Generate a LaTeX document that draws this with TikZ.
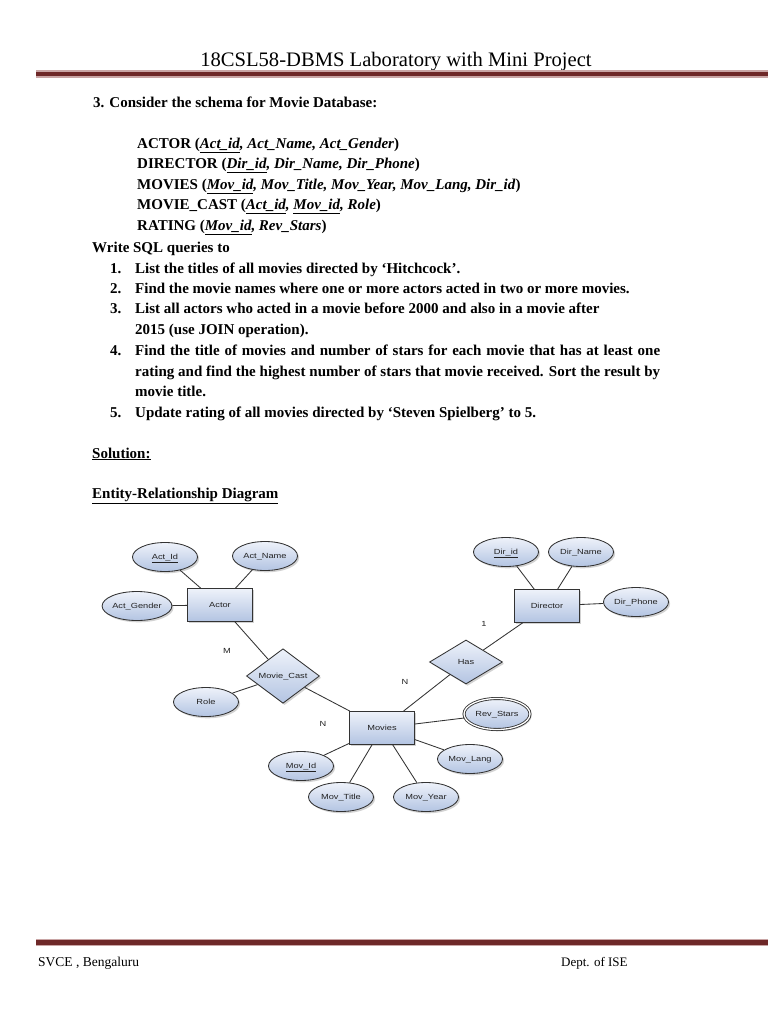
\documentclass[tikz,border=0pt]{standalone}
\usepackage{fontspec}
\setmainfont{Liberation Serif}
\newfontfamily\erfont[FakeStretch=1.25]{Liberation Sans}
\usetikzlibrary{shapes.geometric,shadows}
\definecolor{barmaroon}{HTML}{6E2828}
\definecolor{barlight}{HTML}{C9A5A5}
\definecolor{shtop}{HTML}{EEF2FA}
\definecolor{shbot}{HTML}{B3C4E2}
\definecolor{edgec}{HTML}{333333}
\definecolor{ertext}{HTML}{222222}
\begin{document}
\begin{tikzpicture}[x=1pt,y=-1pt,
  body/.style={anchor=base west,inner sep=0pt,font=\bfseries\fontsize{15}{18}\selectfont},
  foot/.style={anchor=base west,inner sep=0pt,font=\fontsize{13.5}{16}\selectfont},
  erbase/.style={draw=edgec,line width=0.85pt,top color=shtop,bottom color=shbot,
     drop shadow={opacity=0.35,shadow xshift=1.6pt,shadow yshift=-1.8pt},
     inner sep=0pt,text height=5.3pt,text depth=0.4pt,text=ertext,
     font=\erfont\fontsize{7.4}{8}\selectfont},
  attr/.style={erbase,ellipse,minimum width=65pt,minimum height=29pt},
  ent/.style={erbase,rectangle,minimum width=65pt,minimum height=33pt},
  rel/.style={erbase,diamond,minimum width=73pt,minimum height=44pt},
  link/.style={draw=edgec,line width=0.85pt},
  card/.style={inner sep=0pt,text=ertext,font=\erfont\fontsize{7.4}{8}\selectfont}]
\fill[white] (0,0) rectangle (768,1024);
\useasboundingbox (0,0) rectangle (768,1024);

% header
\node[anchor=base,inner sep=0pt,font=\fontsize{20.6}{24}\selectfont] (hd) at (396,67) {18CSL58-DBMS Laboratory with Mini Project};
\fill[barlight] (36,70.5) rectangle (768,78.5);
\fill[barmaroon] (36,72) rectangle (768,76.5);

% body text
\node[body] (q) at (93,108) {3. Consider the schema for Movie Database:};
\node[body] (s1) at (137,149) {ACTOR (\textit{\underline{Act\_id}, Act\_Name, Act\_Gender})};
\node[body] (s2) at (137,169) {DIRECTOR (\textit{\underline{Dir\_id}, Dir\_Name, Dir\_Phone})};
\node[body] (s3) at (137,190) {MOVIES (\textit{\underline{Mov\_id}, Mov\_Title, Mov\_Year, Mov\_Lang, Dir\_id})};
\node[body] (s4) at (137,210) {MOVIE\_CAST (\textit{\underline{Act\_id}, \underline{Mov\_id}, Role})};
\node[body] (s5) at (137,231) {RATING (\textit{\underline{Mov\_id}, Rev\_Stars})};
\node[body] (w) at (92,252) {Write SQL queries to};
\node[body] (n1) at (110,273) {1.};
\node[body] (l1) at (135,273) {List the titles of all movies directed by `Hitchcock'.};
\node[body] (n2) at (110,293) {2.};
\node[body] (l2) at (135,293) {Find the movie names where one or more actors acted in two or more movies.};
\node[body] (n3) at (110,313) {3.};
\node[body] (l3) at (135,313) {List all actors who acted in a movie before 2000 and also in a movie after};
\node[body] (l3b) at (135,334) {2015 (use JOIN operation).};
\node[body] (n4) at (110,355) {4.};
\node[body] (l4) at (135,355) {\makebox[525pt][s]{Find the title of movies and number of stars for each movie that has at least one}};
\node[body] (l4b) at (135,376) {\makebox[525pt][s]{rating and find the highest number of stars that movie received. Sort the result by}};
\node[body] (l4c) at (135,396) {movie title.};
\node[body] (n5) at (110,417) {5.};
\node[body] (l5) at (135,417) {Update rating of all movies directed by `Steven Spielberg' to 5.};
\node[body] (sol) at (92,458) {\underline{Solution:}};
\node[body] (erd) at (92,498) {\underline{Entity-Relationship Diagram}};

% ER diagram
\node[ent] (actor) at (220,605) {Actor};
\node[ent] (director) at (547,606) {Director};
\node[ent] (movies) at (382,728) {Movies};
\node[rel] (cast) at (283,676) {Movie\_Cast};
\node[rel] (has) at (466,662) {Has};
\node[attr] (actid) at (165,557) {\underline{Act\_Id}};
\node[attr] (actname) at (265,556) {Act\_Name};
\node[attr,minimum width=68pt] (actgender) at (137,606) {Act\_Gender};
\node[attr] (role) at (206,702) {Role};
\node[attr] (dirid) at (506,552) {\underline{Dir\_id}};
\node[attr] (dirname) at (581,552) {Dir\_Name};
\node[attr] (dirphone) at (636,602) {Dir\_Phone};
\node[attr,double=white,double distance=1.3pt,minimum width=66pt,minimum height=31pt] (revstars) at (497,714) {Rev\_Stars};
\node[attr] (movlang) at (470,759) {Mov\_Lang};
\node[attr] (movid) at (301,766) {\underline{Mov\_Id}};
\node[attr] (movtitle) at (341,797) {Mov\_Title};
\node[attr] (movyear) at (426,797) {Mov\_Year};

\draw[link] (actid) -- (actor);
\draw[link] (actname) -- (actor);
\draw[link] (actgender) -- (actor);
\draw[link] (actor) -- (cast);
\draw[link] (role) -- (cast);
\draw[link] (cast) -- (movies);
\draw[link] (dirid) -- (director);
\draw[link] (dirname) -- (director);
\draw[link] (dirphone) -- (director);
\draw[link] (director) -- (has);
\draw[link] (has) -- (movies);
\draw[link] (movies) -- (revstars);
\draw[link] (movies) -- (movlang);
\draw[link] (movies) -- (movid);
\draw[link] (movies) -- (movtitle);
\draw[link] (movies) -- (movyear);

\node[card] (cm) at (227,651) {M};
\node[card] (cn1) at (323,724) {N};
\node[card] (cn2) at (405,682) {N};
\node[card] (c1) at (484,624) {1};

% footer
\fill[barlight] (36,938.5) rectangle (768,946);
\fill[barmaroon] (36,940) rectangle (768,944.5);
\node[foot] (f1) at (38,966) {SVCE , Bengaluru};
\node[foot,font=\fontsize{13}{16}\selectfont] (f2) at (561,966) {Dept. of ISE};
\end{tikzpicture}
\end{document}
